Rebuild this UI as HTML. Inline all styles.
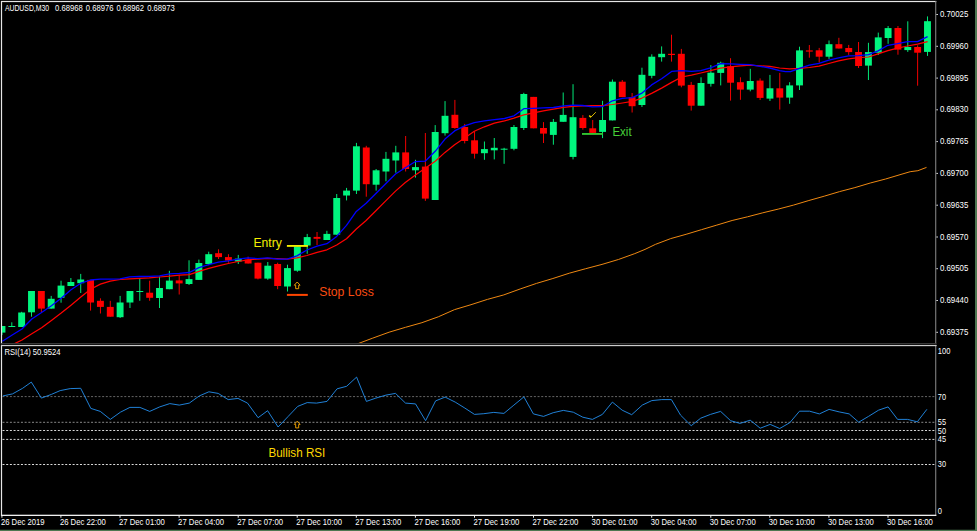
<!DOCTYPE html>
<html><head><meta charset="utf-8"><title>AUDUSD M30</title>
<style>html,body{margin:0;padding:0;background:#000;overflow:hidden}svg{display:block}text{font-family:"Liberation Sans",sans-serif}</style></head><body>
<svg width="977" height="531" viewBox="0 0 977 531">
<rect x="0" y="0" width="977" height="531" fill="#000"/>
<rect x="975" y="0" width="2" height="531" fill="#4d7751"/>
<rect x="0" y="529.75" width="977" height="1.25" fill="#4d7751"/>
<defs><clipPath id="cm"><rect x="2" y="2" width="933.4" height="341.2"/></clipPath><clipPath id="cr"><rect x="2" y="346" width="933.4" height="168.6"/></clipPath></defs>
<g clip-path="url(#cm)">
<polyline points="357.0,344.0 372.8,338.1 389.1,332.2 405.5,327.3 421.9,322.7 438.3,316.8 454.6,309.6 471.0,304.7 487.4,299.4 503.8,294.9 520.1,289.0 536.5,283.4 552.9,278.5 569.3,273.2 585.7,268.7 602.0,264.4 618.4,259.5 634.8,253.6 645.0,249.4 655.4,244.4 670.7,238.6 686.1,234.3 701.4,229.7 716.8,225.1 732.1,220.5 747.5,216.8 762.8,212.8 778.2,209.1 793.5,205.1 808.9,200.5 824.2,196.2 839.6,191.6 854.9,187.6 870.3,183.0 885.6,179.0 901.0,174.4 910.2,171.7 917.9,170.7 926.5,167.4" fill="none" stroke="#ee8812" stroke-width="1"/>
<rect x="1.49" y="326.0" width="0.94" height="9.0" fill="#00f57e"/>
<rect x="-1.49" y="326.0" width="6.9" height="6.6" fill="#00f57e"/>
<rect x="11.34" y="322.3" width="0.94" height="4.7" fill="#00f57e"/>
<rect x="8.36" y="326.0" width="6.9" height="1.0" fill="#00f57e"/>
<rect x="21.18" y="311.8" width="0.94" height="15.2" fill="#00f57e"/>
<rect x="18.20" y="312.5" width="6.9" height="14.5" fill="#00f57e"/>
<rect x="31.03" y="291.0" width="0.94" height="25.7" fill="#00f57e"/>
<rect x="28.05" y="291.0" width="6.9" height="21.3" fill="#00f57e"/>
<rect x="40.87" y="291.0" width="0.94" height="21.3" fill="#ff0000"/>
<rect x="37.89" y="291.0" width="6.9" height="17.6" fill="#ff0000"/>
<rect x="50.72" y="295.9" width="0.94" height="12.7" fill="#00f57e"/>
<rect x="47.74" y="298.8" width="6.9" height="9.8" fill="#00f57e"/>
<rect x="60.57" y="280.7" width="0.94" height="22.0" fill="#00f57e"/>
<rect x="57.59" y="285.6" width="6.9" height="12.2" fill="#00f57e"/>
<rect x="70.41" y="278.0" width="0.94" height="8.0" fill="#00f57e"/>
<rect x="67.43" y="282.0" width="6.9" height="4.0" fill="#00f57e"/>
<rect x="80.26" y="273.9" width="0.94" height="19.1" fill="#00f57e"/>
<rect x="77.28" y="279.5" width="6.9" height="3.7" fill="#00f57e"/>
<rect x="90.10" y="279.9" width="0.94" height="30.7" fill="#ff0000"/>
<rect x="87.12" y="279.9" width="6.9" height="22.6" fill="#ff0000"/>
<rect x="99.95" y="298.3" width="0.94" height="15.2" fill="#ff0000"/>
<rect x="96.97" y="300.8" width="6.9" height="6.1" fill="#ff0000"/>
<rect x="109.80" y="300.8" width="0.94" height="15.9" fill="#ff0000"/>
<rect x="106.82" y="306.9" width="6.9" height="9.8" fill="#ff0000"/>
<rect x="119.64" y="295.9" width="0.94" height="22.1" fill="#00f57e"/>
<rect x="116.66" y="302.5" width="6.9" height="14.7" fill="#00f57e"/>
<rect x="129.49" y="291.0" width="0.94" height="17.0" fill="#00f57e"/>
<rect x="126.51" y="291.0" width="6.9" height="11.5" fill="#00f57e"/>
<rect x="139.33" y="278.7" width="0.94" height="22.1" fill="#00f57e"/>
<rect x="136.35" y="291.0" width="6.9" height="1.0" fill="#00f57e"/>
<rect x="149.18" y="280.7" width="0.94" height="20.1" fill="#ff0000"/>
<rect x="146.20" y="292.7" width="6.9" height="5.1" fill="#ff0000"/>
<rect x="159.03" y="276.5" width="0.94" height="31.5" fill="#00f57e"/>
<rect x="156.05" y="288.0" width="6.9" height="10.0" fill="#00f57e"/>
<rect x="168.87" y="270.8" width="0.94" height="18.4" fill="#00f57e"/>
<rect x="165.89" y="280.6" width="6.9" height="8.6" fill="#00f57e"/>
<rect x="178.72" y="275.0" width="0.94" height="19.5" fill="#ff0000"/>
<rect x="175.74" y="280.4" width="6.9" height="3.0" fill="#ff0000"/>
<rect x="188.56" y="260.3" width="0.94" height="24.7" fill="#00f57e"/>
<rect x="185.58" y="279.1" width="6.9" height="4.9" fill="#00f57e"/>
<rect x="198.41" y="259.6" width="0.94" height="20.3" fill="#00f57e"/>
<rect x="195.43" y="263.0" width="6.9" height="16.9" fill="#00f57e"/>
<rect x="208.26" y="251.7" width="0.94" height="13.5" fill="#00f57e"/>
<rect x="205.28" y="254.2" width="6.9" height="9.8" fill="#00f57e"/>
<rect x="218.10" y="249.3" width="0.94" height="9.7" fill="#ff0000"/>
<rect x="215.12" y="253.2" width="6.9" height="3.9" fill="#ff0000"/>
<rect x="227.95" y="254.2" width="0.94" height="8.5" fill="#ff0000"/>
<rect x="224.97" y="257.1" width="6.9" height="3.4" fill="#ff0000"/>
<rect x="237.79" y="254.9" width="0.94" height="9.1" fill="#00f57e"/>
<rect x="234.81" y="258.6" width="6.9" height="2.9" fill="#00f57e"/>
<rect x="247.64" y="256.6" width="0.94" height="6.9" fill="#ff0000"/>
<rect x="244.66" y="259.6" width="6.9" height="3.9" fill="#ff0000"/>
<rect x="257.49" y="262.7" width="0.94" height="16.7" fill="#ff0000"/>
<rect x="254.51" y="262.7" width="6.9" height="15.9" fill="#ff0000"/>
<rect x="267.33" y="262.0" width="0.94" height="17.8" fill="#00f57e"/>
<rect x="264.35" y="265.7" width="6.9" height="12.9" fill="#00f57e"/>
<rect x="277.18" y="262.7" width="0.94" height="26.5" fill="#ff0000"/>
<rect x="274.20" y="264.0" width="6.9" height="22.0" fill="#ff0000"/>
<rect x="287.02" y="264.7" width="0.94" height="26.8" fill="#00f57e"/>
<rect x="284.04" y="268.1" width="6.9" height="18.4" fill="#00f57e"/>
<rect x="296.87" y="246.5" width="0.94" height="25.3" fill="#00f57e"/>
<rect x="293.89" y="246.5" width="6.9" height="24.2" fill="#00f57e"/>
<rect x="306.72" y="233.9" width="0.94" height="19.9" fill="#00f57e"/>
<rect x="303.74" y="237.1" width="6.9" height="8.4" fill="#00f57e"/>
<rect x="316.56" y="232.0" width="0.94" height="13.0" fill="#ff0000"/>
<rect x="313.58" y="236.9" width="6.9" height="1.9" fill="#ff0000"/>
<rect x="326.41" y="230.8" width="0.94" height="9.2" fill="#00f57e"/>
<rect x="323.43" y="233.9" width="6.9" height="6.1" fill="#00f57e"/>
<rect x="336.25" y="194.0" width="0.94" height="40.7" fill="#00f57e"/>
<rect x="333.27" y="198.0" width="6.9" height="36.7" fill="#00f57e"/>
<rect x="346.10" y="187.9" width="0.94" height="12.5" fill="#00f57e"/>
<rect x="343.12" y="190.6" width="6.9" height="4.9" fill="#00f57e"/>
<rect x="355.95" y="142.9" width="0.94" height="51.1" fill="#00f57e"/>
<rect x="352.97" y="146.3" width="6.9" height="44.3" fill="#00f57e"/>
<rect x="365.79" y="145.8" width="0.94" height="50.9" fill="#ff0000"/>
<rect x="362.81" y="147.5" width="6.9" height="36.7" fill="#ff0000"/>
<rect x="375.64" y="169.0" width="0.94" height="21.6" fill="#00f57e"/>
<rect x="372.66" y="170.3" width="6.9" height="14.4" fill="#00f57e"/>
<rect x="385.48" y="151.9" width="0.94" height="29.4" fill="#00f57e"/>
<rect x="382.50" y="158.8" width="6.9" height="12.7" fill="#00f57e"/>
<rect x="395.33" y="145.8" width="0.94" height="26.9" fill="#00f57e"/>
<rect x="392.35" y="152.4" width="6.9" height="8.1" fill="#00f57e"/>
<rect x="405.18" y="136.0" width="0.94" height="35.5" fill="#ff0000"/>
<rect x="402.20" y="152.4" width="6.9" height="16.6" fill="#ff0000"/>
<rect x="415.02" y="159.8" width="0.94" height="17.8" fill="#00f57e"/>
<rect x="412.04" y="167.1" width="6.9" height="3.2" fill="#00f57e"/>
<rect x="424.87" y="133.0" width="0.94" height="67.9" fill="#ff0000"/>
<rect x="421.89" y="166.6" width="6.9" height="32.0" fill="#ff0000"/>
<rect x="434.71" y="125.1" width="0.94" height="74.9" fill="#00f57e"/>
<rect x="431.73" y="132.0" width="6.9" height="68.0" fill="#00f57e"/>
<rect x="444.56" y="101.1" width="0.94" height="34.5" fill="#00f57e"/>
<rect x="441.58" y="115.8" width="6.9" height="17.4" fill="#00f57e"/>
<rect x="454.41" y="99.9" width="0.94" height="28.8" fill="#ff0000"/>
<rect x="451.43" y="114.8" width="6.9" height="13.2" fill="#ff0000"/>
<rect x="464.25" y="123.9" width="0.94" height="19.5" fill="#ff0000"/>
<rect x="461.27" y="127.0" width="6.9" height="14.0" fill="#ff0000"/>
<rect x="474.10" y="131.2" width="0.94" height="27.4" fill="#ff0000"/>
<rect x="471.12" y="140.3" width="6.9" height="13.4" fill="#ff0000"/>
<rect x="483.94" y="141.5" width="0.94" height="18.3" fill="#00f57e"/>
<rect x="480.96" y="149.1" width="6.9" height="4.1" fill="#00f57e"/>
<rect x="493.79" y="138.0" width="0.94" height="21.4" fill="#00f57e"/>
<rect x="490.81" y="147.8" width="6.9" height="2.5" fill="#00f57e"/>
<rect x="503.64" y="147.8" width="0.94" height="16.0" fill="#00f57e"/>
<rect x="500.66" y="148.7" width="6.9" height="1.0" fill="#00f57e"/>
<rect x="513.48" y="125.0" width="0.94" height="25.3" fill="#00f57e"/>
<rect x="510.50" y="127.0" width="6.9" height="21.8" fill="#00f57e"/>
<rect x="523.33" y="92.8" width="0.94" height="37.2" fill="#00f57e"/>
<rect x="520.35" y="94.0" width="6.9" height="34.0" fill="#00f57e"/>
<rect x="533.17" y="96.9" width="0.94" height="31.4" fill="#ff0000"/>
<rect x="530.19" y="96.9" width="6.9" height="31.4" fill="#ff0000"/>
<rect x="543.02" y="122.1" width="0.94" height="20.9" fill="#ff0000"/>
<rect x="540.04" y="128.0" width="6.9" height="5.6" fill="#ff0000"/>
<rect x="552.87" y="119.0" width="0.94" height="25.7" fill="#00f57e"/>
<rect x="549.89" y="121.9" width="6.9" height="13.0" fill="#00f57e"/>
<rect x="562.71" y="92.5" width="0.94" height="29.3" fill="#00f57e"/>
<rect x="559.73" y="114.9" width="6.9" height="6.9" fill="#00f57e"/>
<rect x="572.56" y="84.2" width="0.94" height="75.2" fill="#00f57e"/>
<rect x="569.58" y="117.2" width="6.9" height="39.7" fill="#00f57e"/>
<rect x="582.40" y="115.1" width="0.94" height="14.6" fill="#ff0000"/>
<rect x="579.42" y="117.9" width="6.9" height="10.1" fill="#ff0000"/>
<rect x="592.25" y="120.0" width="0.94" height="12.9" fill="#ff0000"/>
<rect x="589.27" y="128.3" width="6.9" height="4.6" fill="#ff0000"/>
<rect x="602.10" y="100.8" width="0.94" height="37.3" fill="#00f57e"/>
<rect x="599.12" y="120.0" width="6.9" height="11.9" fill="#00f57e"/>
<rect x="611.94" y="79.5" width="0.94" height="40.9" fill="#00f57e"/>
<rect x="608.96" y="81.7" width="6.9" height="38.7" fill="#00f57e"/>
<rect x="621.79" y="80.0" width="0.94" height="17.1" fill="#ff0000"/>
<rect x="618.81" y="81.7" width="6.9" height="15.4" fill="#ff0000"/>
<rect x="631.63" y="93.0" width="0.94" height="19.5" fill="#ff0000"/>
<rect x="628.65" y="97.1" width="6.9" height="9.1" fill="#ff0000"/>
<rect x="641.48" y="67.7" width="0.94" height="39.3" fill="#00f57e"/>
<rect x="638.50" y="74.8" width="6.9" height="30.2" fill="#00f57e"/>
<rect x="651.33" y="54.3" width="0.94" height="24.0" fill="#00f57e"/>
<rect x="648.35" y="56.7" width="6.9" height="19.1" fill="#00f57e"/>
<rect x="661.17" y="46.4" width="0.94" height="15.2" fill="#00f57e"/>
<rect x="658.19" y="53.8" width="6.9" height="3.4" fill="#00f57e"/>
<rect x="671.02" y="34.7" width="0.94" height="26.9" fill="#ff0000"/>
<rect x="668.04" y="53.8" width="6.9" height="1.2" fill="#ff0000"/>
<rect x="680.86" y="48.9" width="0.94" height="38.4" fill="#ff0000"/>
<rect x="677.88" y="53.8" width="6.9" height="31.8" fill="#ff0000"/>
<rect x="690.71" y="81.9" width="0.94" height="28.7" fill="#ff0000"/>
<rect x="687.73" y="84.9" width="6.9" height="20.8" fill="#ff0000"/>
<rect x="700.56" y="77.3" width="0.94" height="28.4" fill="#00f57e"/>
<rect x="697.58" y="83.0" width="6.9" height="22.7" fill="#00f57e"/>
<rect x="710.40" y="65.1" width="0.94" height="21.5" fill="#00f57e"/>
<rect x="707.42" y="72.7" width="6.9" height="11.1" fill="#00f57e"/>
<rect x="720.25" y="61.7" width="0.94" height="23.7" fill="#00f57e"/>
<rect x="717.27" y="62.8" width="6.9" height="10.1" fill="#00f57e"/>
<rect x="730.09" y="58.2" width="0.94" height="42.4" fill="#ff0000"/>
<rect x="727.11" y="66.3" width="6.9" height="16.4" fill="#ff0000"/>
<rect x="739.94" y="77.3" width="0.94" height="22.5" fill="#ff0000"/>
<rect x="736.96" y="82.2" width="6.9" height="7.4" fill="#ff0000"/>
<rect x="749.79" y="68.8" width="0.94" height="22.5" fill="#00f57e"/>
<rect x="746.81" y="81.0" width="6.9" height="8.6" fill="#00f57e"/>
<rect x="759.63" y="78.4" width="0.94" height="21.6" fill="#ff0000"/>
<rect x="756.65" y="80.6" width="6.9" height="17.3" fill="#ff0000"/>
<rect x="769.48" y="74.9" width="0.94" height="26.1" fill="#00f57e"/>
<rect x="766.50" y="88.3" width="6.9" height="10.3" fill="#00f57e"/>
<rect x="779.32" y="72.9" width="0.94" height="36.7" fill="#ff0000"/>
<rect x="776.34" y="88.3" width="6.9" height="9.3" fill="#ff0000"/>
<rect x="789.17" y="82.2" width="0.94" height="21.6" fill="#00f57e"/>
<rect x="786.19" y="85.4" width="6.9" height="12.2" fill="#00f57e"/>
<rect x="799.02" y="46.7" width="0.94" height="43.3" fill="#00f57e"/>
<rect x="796.04" y="50.4" width="6.9" height="35.0" fill="#00f57e"/>
<rect x="808.86" y="45.0" width="0.94" height="12.7" fill="#ff0000"/>
<rect x="805.88" y="50.4" width="6.9" height="1.2" fill="#ff0000"/>
<rect x="818.71" y="47.9" width="0.94" height="14.7" fill="#ff0000"/>
<rect x="815.73" y="50.3" width="6.9" height="6.4" fill="#ff0000"/>
<rect x="828.55" y="40.5" width="0.94" height="18.4" fill="#00f57e"/>
<rect x="825.57" y="44.2" width="6.9" height="12.5" fill="#00f57e"/>
<rect x="838.40" y="37.8" width="0.94" height="10.7" fill="#ff0000"/>
<rect x="835.42" y="44.2" width="6.9" height="4.3" fill="#ff0000"/>
<rect x="848.25" y="44.9" width="0.94" height="10.0" fill="#ff0000"/>
<rect x="845.27" y="48.0" width="6.9" height="4.1" fill="#ff0000"/>
<rect x="858.09" y="42.0" width="0.94" height="26.0" fill="#ff0000"/>
<rect x="855.11" y="52.0" width="6.9" height="14.0" fill="#ff0000"/>
<rect x="867.94" y="42.8" width="0.94" height="37.2" fill="#00f57e"/>
<rect x="864.96" y="52.1" width="6.9" height="13.5" fill="#00f57e"/>
<rect x="877.78" y="32.6" width="0.94" height="22.4" fill="#00f57e"/>
<rect x="874.80" y="37.4" width="6.9" height="15.3" fill="#00f57e"/>
<rect x="887.63" y="26.0" width="0.94" height="17.8" fill="#00f57e"/>
<rect x="884.65" y="28.1" width="6.9" height="9.9" fill="#00f57e"/>
<rect x="897.48" y="26.0" width="0.94" height="28.7" fill="#ff0000"/>
<rect x="894.50" y="28.0" width="6.9" height="21.6" fill="#ff0000"/>
<rect x="907.32" y="21.3" width="0.94" height="30.6" fill="#00f57e"/>
<rect x="904.34" y="47.0" width="6.9" height="3.1" fill="#00f57e"/>
<rect x="917.17" y="45.3" width="0.94" height="40.4" fill="#ff0000"/>
<rect x="914.19" y="47.0" width="6.9" height="5.7" fill="#ff0000"/>
<rect x="927.01" y="16.4" width="0.94" height="39.5" fill="#00f57e"/>
<rect x="924.03" y="21.2" width="6.9" height="30.7" fill="#00f57e"/>
<rect x="286.9" y="245" width="21" height="1.85" fill="#f6f000"/>
<rect x="286.9" y="293.9" width="20.9" height="2" fill="#ff4500"/>
<rect x="582" y="133" width="20.9" height="1.9" fill="#30c430"/>
<polyline points="14.7,343.6 22.0,340.0 31.8,333.8 41.6,327.7 51.4,320.4 61.2,313.0 71.0,305.2 80.8,297.1 90.6,289.3 100.4,284.1 110.2,281.2 120.0,279.5 129.7,278.8 139.5,278.3 149.3,277.8 159.5,277.0 169.6,276.2 179.4,275.2 189.2,274.6 199.0,271.3 208.8,268.4 218.5,265.9 228.3,263.5 238.1,261.5 247.9,259.8 257.7,259.1 267.5,258.3 277.3,258.6 287.1,259.1 296.9,257.8 306.9,255.5 317.1,252.3 326.9,249.8 336.7,245.0 346.5,238.8 356.3,229.0 366.1,220.5 375.9,210.7 385.7,200.9 395.5,191.1 405.3,182.5 415.1,175.2 425.2,168.3 435.2,161.2 445.0,152.4 454.6,144.7 464.6,137.9 474.3,131.2 484.4,126.8 494.4,123.1 504.5,120.9 514.0,118.2 523.8,114.8 533.6,112.8 543.4,110.9 553.4,109.2 563.5,107.3 573.0,106.3 582.6,105.8 592.3,105.6 602.3,105.6 612.4,104.5 622.4,103.0 632.2,101.4 641.5,98.3 651.6,93.4 661.6,88.1 671.6,82.4 681.7,77.0 691.5,75.1 700.8,73.0 710.6,70.7 720.4,68.2 730.4,66.8 740.4,65.8 750.2,65.1 760.0,65.8 769.8,66.3 779.6,68.0 789.6,68.8 799.4,68.3 809.4,67.5 819.0,66.2 828.8,63.5 838.6,60.8 848.6,58.9 858.6,57.6 868.6,57.0 878.1,53.9 887.9,50.7 897.5,48.2 907.5,46.0 917.5,44.1 927.6,41.6" fill="none" stroke="#ff0000" stroke-width="1.25" stroke-linejoin="round"/>
<polyline points="2.4,341.2 12.2,335.0 22.0,329.0 31.8,319.0 41.6,312.5 51.4,305.7 61.2,298.3 71.0,289.8 80.8,283.2 90.6,280.0 100.4,279.2 110.2,279.2 120.0,278.8 129.7,276.8 139.5,276.5 149.3,276.3 159.5,275.8 169.6,273.8 179.4,273.3 189.2,272.5 199.0,267.6 208.8,264.7 218.5,262.2 228.3,260.8 238.1,259.1 247.9,257.8 257.7,258.6 267.5,257.8 277.3,259.1 287.1,259.1 296.9,255.9 306.9,250.0 317.1,246.2 326.9,243.7 336.7,236.4 346.5,225.4 356.3,211.4 366.1,203.3 375.9,193.5 385.7,183.8 395.5,174.0 405.3,167.8 415.1,161.7 425.2,161.2 435.2,151.3 445.0,139.1 454.6,130.9 464.6,125.9 474.3,122.6 484.4,120.9 494.4,119.7 504.5,118.5 514.0,115.8 523.8,108.7 533.6,108.4 543.4,107.9 553.4,107.5 563.5,105.9 573.0,105.2 582.6,105.5 592.3,106.9 602.3,106.7 612.4,100.8 622.4,98.3 632.2,97.7 641.5,93.4 651.6,84.9 661.6,78.8 671.6,71.4 681.7,70.7 691.5,71.4 700.8,70.7 710.6,67.8 720.4,63.7 730.4,63.9 740.4,64.3 750.2,64.6 760.0,66.3 769.8,68.0 779.6,70.6 785.5,71.7 790.5,71.7 799.4,68.3 809.4,65.1 819.0,63.3 828.8,60.2 838.6,57.8 848.6,55.8 858.6,55.7 868.6,54.6 878.1,50.9 887.9,45.3 897.5,43.6 907.5,41.6 917.5,41.6 927.6,36.7" fill="none" stroke="#0000ff" stroke-width="1.3" stroke-linejoin="round"/>
<path d="M297.2,282.0 L300.1,285.2 L298.7,285.2 L298.7,288.7 L295.7,288.7 L295.7,285.2 L294.3,285.2 Z" fill="none" stroke="#f2a400" stroke-width="0.95" stroke-linejoin="miter"/>
<path d="M589.3,115.5 L590.8,117.3" fill="none" stroke="#f0d000" stroke-width="1.45"/>
<path d="M590.7,117.4 L595.8,112.2" fill="none" stroke="#e4c000" stroke-width="0.95"/>
<text x="253.5" y="247.1" font-size="12.5" fill="#f6f000" textLength="28.3" lengthAdjust="spacingAndGlyphs">Entry</text>
<text x="319.2" y="295.9" font-size="12.9" fill="#fa4c12" textLength="54.6" lengthAdjust="spacingAndGlyphs">Stop Loss</text>
<text x="612.4" y="136.4" font-size="12.5" fill="#46d03a" textLength="19.2" lengthAdjust="spacingAndGlyphs">Exit</text>
</g>
<g clip-path="url(#cr)">
<line x1="2.5" y1="396.6" x2="935" y2="396.6" stroke="#666666" stroke-width="1" stroke-dasharray="2 1.69"/>
<line x1="2.5" y1="422.35" x2="935" y2="422.35" stroke="#6c6c6c" stroke-width="1.3" stroke-dasharray="2 1.69"/>
<line x1="2.5" y1="430.5" x2="935" y2="430.5" stroke="#d8d8d8" stroke-width="1" stroke-dasharray="2 1.69"/>
<line x1="2.5" y1="439.4" x2="935" y2="439.4" stroke="#d8d8d8" stroke-width="1" stroke-dasharray="2 1.69"/>
<line x1="2.5" y1="464.5" x2="935" y2="464.5" stroke="#dcdcdc" stroke-width="1" stroke-dasharray="2 1.69"/>
<polyline points="3.0,395.9 12.5,393.9 22.6,388.3 31.3,382.1 41.4,398.1 51.4,394.4 60.2,390.6 70.2,388.6 80.7,388.3 90.8,408.4 100.3,411.4 110.3,419.4 120.4,412.2 129.9,407.4 139.9,407.4 149.7,411.4 159.7,406.9 169.8,403.6 179.3,405.1 189.3,403.1 199.3,395.9 208.9,391.8 218.2,393.4 228.2,399.6 238.0,398.4 247.5,403.1 258.1,417.7 267.6,410.7 278.1,427.0 288.2,416.4 297.7,406.4 307.2,402.6 316.5,403.1 327.0,401.4 337.1,388.8 346.6,386.3 356.6,377.1 366.4,401.4 375.9,398.1 386.0,395.1 395.5,393.4 405.5,403.1 415.5,403.9 425.6,420.7 435.6,400.9 445.1,397.1 455.2,402.1 464.9,408.1 474.5,414.4 483.8,413.7 493.8,412.4 503.9,413.4 513.9,405.1 523.9,396.9 533.4,413.9 543.5,416.4 553.2,412.7 563.3,410.4 573.3,412.2 582.8,417.2 592.4,419.4 602.4,414.4 612.4,402.1 622.2,410.2 631.7,414.7 642.3,405.1 651.8,400.6 661.8,399.6 671.4,399.6 680.6,415.2 691.2,425.7 700.7,418.2 710.5,414.4 720.6,411.4 730.6,420.7 740.1,423.4 750.2,420.2 760.2,428.2 770.2,424.4 779.7,428.5 789.8,422.7 799.5,411.2 809.6,411.2 819.4,413.9 829.1,409.4 839.2,411.9 849.2,413.9 858.7,422.2 868.5,416.4 878.5,410.2 888.1,406.9 897.6,419.4 907.6,419.4 917.3,421.8 926.9,409.3" fill="none" stroke="#2492f4" stroke-width="0.88" stroke-linejoin="round"/>
<path d="M297.2,421.2 L300.1,424.4 L298.7,424.4 L298.7,427.9 L295.7,427.9 L295.7,424.4 L294.3,424.4 Z" fill="none" stroke="#f2a400" stroke-width="0.95" stroke-linejoin="miter"/>
<text x="268.4" y="456.9" font-size="12.5" fill="#ffd800" textLength="56.9" lengthAdjust="spacingAndGlyphs">Bullish RSI</text>
</g>
<rect x="1" y="0.9" width="935.3" height="1.2" fill="#e6e6e6"/>
<rect x="0.9" y="1" width="1.2" height="515" fill="#e6e6e6"/>
<rect x="935.2" y="1" width="1.05" height="515" fill="#868686"/>
<rect x="1" y="514.7" width="935.3" height="1.3" fill="#f0f0f0"/>
<rect x="1" y="343.1" width="935.3" height="1" fill="#404040"/>
<rect x="0" y="344.1" width="937" height="0.8" fill="#000"/>
<rect x="1" y="344.9" width="935.6" height="1.25" fill="#cccccc"/>
<text x="4.9" y="10.7" font-size="8.4" fill="#fff" textLength="44.2" lengthAdjust="spacingAndGlyphs">AUDUSD,M30</text>
<text x="55.1" y="10.7" font-size="8.4" fill="#fff" textLength="27.6" lengthAdjust="spacingAndGlyphs">0.68968</text>
<text x="85.8" y="10.7" font-size="8.4" fill="#fff" textLength="27.6" lengthAdjust="spacingAndGlyphs">0.68976</text>
<text x="116.5" y="10.7" font-size="8.4" fill="#fff" textLength="27.6" lengthAdjust="spacingAndGlyphs">0.68962</text>
<text x="147.2" y="10.7" font-size="8.4" fill="#fff" textLength="27.6" lengthAdjust="spacingAndGlyphs">0.68973</text>
<text x="4.4" y="354.8" font-size="8.4" fill="#fff" textLength="56.1" lengthAdjust="spacingAndGlyphs">RSI(14) 50.9524</text>
<rect x="936.3" y="14.0" width="1.7" height="1" fill="#d0d0d0"/>
<text x="939.9" y="17.1" font-size="8.4" fill="#fff" textLength="28.4" lengthAdjust="spacingAndGlyphs">0.70025</text>
<rect x="936.3" y="45.8" width="1.7" height="1" fill="#d0d0d0"/>
<text x="939.9" y="48.9" font-size="8.4" fill="#fff" textLength="28.4" lengthAdjust="spacingAndGlyphs">0.69960</text>
<rect x="936.3" y="77.6" width="1.7" height="1" fill="#d0d0d0"/>
<text x="939.9" y="80.7" font-size="8.4" fill="#fff" textLength="28.4" lengthAdjust="spacingAndGlyphs">0.69895</text>
<rect x="936.3" y="109.3" width="1.7" height="1" fill="#d0d0d0"/>
<text x="939.9" y="112.4" font-size="8.4" fill="#fff" textLength="28.4" lengthAdjust="spacingAndGlyphs">0.69830</text>
<rect x="936.3" y="141.1" width="1.7" height="1" fill="#d0d0d0"/>
<text x="939.9" y="144.2" font-size="8.4" fill="#fff" textLength="28.4" lengthAdjust="spacingAndGlyphs">0.69765</text>
<rect x="936.3" y="172.9" width="1.7" height="1" fill="#d0d0d0"/>
<text x="939.9" y="176.0" font-size="8.4" fill="#fff" textLength="28.4" lengthAdjust="spacingAndGlyphs">0.69700</text>
<rect x="936.3" y="204.7" width="1.7" height="1" fill="#d0d0d0"/>
<text x="939.9" y="207.8" font-size="8.4" fill="#fff" textLength="28.4" lengthAdjust="spacingAndGlyphs">0.69635</text>
<rect x="936.3" y="236.5" width="1.7" height="1" fill="#d0d0d0"/>
<text x="939.9" y="239.6" font-size="8.4" fill="#fff" textLength="28.4" lengthAdjust="spacingAndGlyphs">0.69570</text>
<rect x="936.3" y="268.2" width="1.7" height="1" fill="#d0d0d0"/>
<text x="939.9" y="271.3" font-size="8.4" fill="#fff" textLength="28.4" lengthAdjust="spacingAndGlyphs">0.69505</text>
<rect x="936.3" y="300.0" width="1.7" height="1" fill="#d0d0d0"/>
<text x="939.9" y="303.1" font-size="8.4" fill="#fff" textLength="28.4" lengthAdjust="spacingAndGlyphs">0.69440</text>
<rect x="936.3" y="331.8" width="1.7" height="1" fill="#d0d0d0"/>
<text x="939.9" y="334.9" font-size="8.4" fill="#fff" textLength="28.4" lengthAdjust="spacingAndGlyphs">0.69375</text>
<text x="937.8" y="353.8" font-size="8.4" fill="#fff" textLength="12.6" lengthAdjust="spacingAndGlyphs">100</text>
<text x="937.8" y="400" font-size="8.4" fill="#fff" textLength="8.2" lengthAdjust="spacingAndGlyphs">70</text>
<text x="937.8" y="424.9" font-size="8.4" fill="#fff" textLength="8.2" lengthAdjust="spacingAndGlyphs">55</text>
<text x="937.8" y="433.7" font-size="8.4" fill="#fff" textLength="8.2" lengthAdjust="spacingAndGlyphs">50</text>
<text x="937.8" y="442" font-size="8.4" fill="#fff" textLength="8.2" lengthAdjust="spacingAndGlyphs">45</text>
<text x="937.8" y="467.2" font-size="8.4" fill="#fff" textLength="8.2" lengthAdjust="spacingAndGlyphs">30</text>
<text x="937.8" y="513.7" font-size="8.4" fill="#fff" textLength="4.2" lengthAdjust="spacingAndGlyphs">0</text>
<rect x="1.4" y="515.5" width="1" height="2.2" fill="#f0f0f0"/>
<text x="0.9" y="524.9" font-size="8.4" fill="#fff" textLength="43.6" lengthAdjust="spacingAndGlyphs">26 Dec 2019</text>
<rect x="60.4" y="515.5" width="1" height="2.2" fill="#f0f0f0"/>
<text x="59.9" y="524.9" font-size="8.4" fill="#fff" textLength="45.9" lengthAdjust="spacingAndGlyphs">26 Dec 22:00</text>
<rect x="119.5" y="515.5" width="1" height="2.2" fill="#f0f0f0"/>
<text x="119.0" y="524.9" font-size="8.4" fill="#fff" textLength="45.9" lengthAdjust="spacingAndGlyphs">27 Dec 01:00</text>
<rect x="178.6" y="515.5" width="1" height="2.2" fill="#f0f0f0"/>
<text x="178.1" y="524.9" font-size="8.4" fill="#fff" textLength="45.9" lengthAdjust="spacingAndGlyphs">27 Dec 04:00</text>
<rect x="237.7" y="515.5" width="1" height="2.2" fill="#f0f0f0"/>
<text x="237.2" y="524.9" font-size="8.4" fill="#fff" textLength="45.9" lengthAdjust="spacingAndGlyphs">27 Dec 07:00</text>
<rect x="296.7" y="515.5" width="1" height="2.2" fill="#f0f0f0"/>
<text x="296.2" y="524.9" font-size="8.4" fill="#fff" textLength="45.9" lengthAdjust="spacingAndGlyphs">27 Dec 10:00</text>
<rect x="355.8" y="515.5" width="1" height="2.2" fill="#f0f0f0"/>
<text x="355.3" y="524.9" font-size="8.4" fill="#fff" textLength="45.9" lengthAdjust="spacingAndGlyphs">27 Dec 13:00</text>
<rect x="414.9" y="515.5" width="1" height="2.2" fill="#f0f0f0"/>
<text x="414.4" y="524.9" font-size="8.4" fill="#fff" textLength="45.9" lengthAdjust="spacingAndGlyphs">27 Dec 16:00</text>
<rect x="474.0" y="515.5" width="1" height="2.2" fill="#f0f0f0"/>
<text x="473.5" y="524.9" font-size="8.4" fill="#fff" textLength="45.9" lengthAdjust="spacingAndGlyphs">27 Dec 19:00</text>
<rect x="533.0" y="515.5" width="1" height="2.2" fill="#f0f0f0"/>
<text x="532.5" y="524.9" font-size="8.4" fill="#fff" textLength="45.9" lengthAdjust="spacingAndGlyphs">27 Dec 22:00</text>
<rect x="592.1" y="515.5" width="1" height="2.2" fill="#f0f0f0"/>
<text x="591.6" y="524.9" font-size="8.4" fill="#fff" textLength="45.9" lengthAdjust="spacingAndGlyphs">30 Dec 01:00</text>
<rect x="651.2" y="515.5" width="1" height="2.2" fill="#f0f0f0"/>
<text x="650.7" y="524.9" font-size="8.4" fill="#fff" textLength="45.9" lengthAdjust="spacingAndGlyphs">30 Dec 04:00</text>
<rect x="710.3" y="515.5" width="1" height="2.2" fill="#f0f0f0"/>
<text x="709.8" y="524.9" font-size="8.4" fill="#fff" textLength="45.9" lengthAdjust="spacingAndGlyphs">30 Dec 07:00</text>
<rect x="769.3" y="515.5" width="1" height="2.2" fill="#f0f0f0"/>
<text x="768.8" y="524.9" font-size="8.4" fill="#fff" textLength="45.9" lengthAdjust="spacingAndGlyphs">30 Dec 10:00</text>
<rect x="828.4" y="515.5" width="1" height="2.2" fill="#f0f0f0"/>
<text x="827.9" y="524.9" font-size="8.4" fill="#fff" textLength="45.9" lengthAdjust="spacingAndGlyphs">30 Dec 13:00</text>
<rect x="887.5" y="515.5" width="1" height="2.2" fill="#f0f0f0"/>
<text x="887.0" y="524.9" font-size="8.4" fill="#fff" textLength="45.9" lengthAdjust="spacingAndGlyphs">30 Dec 16:00</text>
</svg></body></html>
